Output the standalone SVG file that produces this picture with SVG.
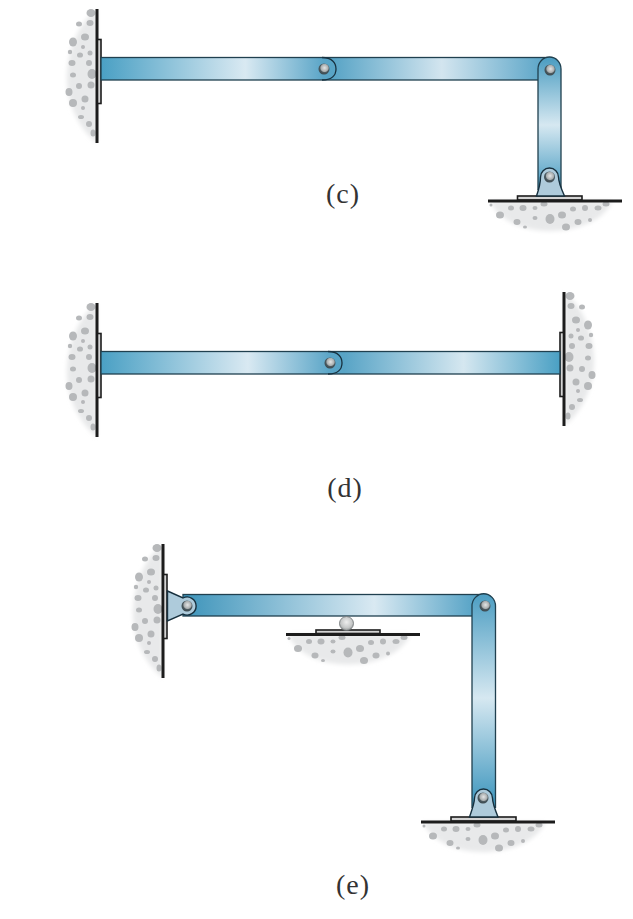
<svg xmlns="http://www.w3.org/2000/svg" width="633" height="919" viewBox="0 0 633 919">
<style>
.blob{fill:#e8e9ea;filter:url(#soft)}
.stones{filter:url(#softer)}
.stones ellipse{fill:#b6b8ba}
.bar{stroke:#20404f;stroke-width:1.3}
.hinge{fill:none;stroke:#17303e;stroke-width:1.3}
.clevis{fill:#aecbdb;stroke:#17303e;stroke-width:1.4}
.heavy{fill:#1c1c1c}
.plate{fill:#d4d4d4;stroke:#1c1c1c;stroke-width:1.6}
.label{font-family:"Liberation Serif","Times New Roman",serif;font-size:28px;letter-spacing:1px;fill:#333;text-anchor:middle}
</style>
<defs>
<filter id="soft" x="-20%" y="-20%" width="140%" height="140%"><feGaussianBlur stdDeviation="2.2"/></filter>
<filter id="softer" x="-10%" y="-10%" width="120%" height="120%"><feGaussianBlur stdDeviation=".7"/></filter>
<radialGradient id="pinFill" cx="55%" cy="40%" r="60%"><stop offset="0" stop-color="#e4e6e6"/><stop offset=".55" stop-color="#a9adae"/><stop offset=".7" stop-color="#4c5a60"/><stop offset="1" stop-color="#3a484e"/></radialGradient>
<radialGradient id="ballFill" cx="50%" cy="40%" r="60%"><stop offset="0" stop-color="#eeeeee"/><stop offset=".7" stop-color="#c4c6c6"/><stop offset="1" stop-color="#8d9090"/></radialGradient>
<linearGradient id="beamC" gradientUnits="userSpaceOnUse" x1="101" y1="0" x2="538" y2="0"><stop offset="0" stop-color="#4aa0c4"/><stop offset=".33" stop-color="#d9e9f2"/><stop offset=".51" stop-color="#5aa5c7"/><stop offset=".53" stop-color="#58a4c6"/><stop offset=".78" stop-color="#d3e5ef"/><stop offset="1" stop-color="#62a9ca"/></linearGradient>
<linearGradient id="beamD" gradientUnits="userSpaceOnUse" x1="101" y1="0" x2="560" y2="0"><stop offset="0" stop-color="#4aa0c4"/><stop offset=".32" stop-color="#d9e9f2"/><stop offset=".5" stop-color="#5aa5c7"/><stop offset=".53" stop-color="#58a4c6"/><stop offset=".79" stop-color="#d5e7f0"/><stop offset="1" stop-color="#4aa0c4"/></linearGradient>
<linearGradient id="beamE" gradientUnits="userSpaceOnUse" x1="185" y1="0" x2="472" y2="0"><stop offset="0" stop-color="#3f95bb"/><stop offset=".66" stop-color="#d9e9f2"/><stop offset="1" stop-color="#5aa5c7"/></linearGradient>
<linearGradient id="linkC" gradientUnits="userSpaceOnUse" x1="0" y1="60" x2="0" y2="190"><stop offset="0" stop-color="#4f9fc3"/><stop offset=".5" stop-color="#d6e8f1"/><stop offset="1" stop-color="#459ac0"/></linearGradient>
<linearGradient id="linkE" gradientUnits="userSpaceOnUse" x1="0" y1="596" x2="0" y2="800"><stop offset="0" stop-color="#4f9fc3"/><stop offset=".5" stop-color="#d6e8f1"/><stop offset="1" stop-color="#459ac0"/></linearGradient>
<circle id="pin" r="5.5" fill="url(#pinFill)"/>
<g id="wallMass">
<path class="blob" d="M97 10C80 20 67 50 67 78C67 105 80 130 97 143Z"/>
<g class="stones">
<ellipse cx="91" cy="13" rx="4.500" ry="4"/><ellipse cx="79" cy="24" rx="3" ry="2.500"/><ellipse cx="90" cy="23" rx="3.500" ry="3"/><ellipse cx="85" cy="37" rx="4" ry="3.500"/><ellipse cx="73" cy="42" rx="4" ry="4.500"/><ellipse cx="83" cy="47" rx="2" ry="2"/><ellipse cx="70" cy="52" rx="2.200" ry="2.200"/><ellipse cx="80" cy="55" rx="3" ry="2.600"/><ellipse cx="90" cy="53" rx="2.500" ry="2.500"/><ellipse cx="72" cy="63" rx="3.500" ry="3"/><ellipse cx="89" cy="63" rx="3" ry="3"/><ellipse cx="92" cy="74" rx="4.500" ry="5"/><ellipse cx="73" cy="75" rx="3" ry="2.500"/><ellipse cx="79" cy="86" rx="3" ry="3"/><ellipse cx="91" cy="85" rx="3.500" ry="3.500"/><ellipse cx="69" cy="92" rx="3.500" ry="4"/><ellipse cx="85" cy="99" rx="3.500" ry="3.500"/><ellipse cx="73" cy="103" rx="4" ry="4"/><ellipse cx="83" cy="108" rx="2" ry="2"/><ellipse cx="81" cy="117" rx="3" ry="2"/><ellipse cx="89" cy="124" rx="3" ry="3"/><ellipse cx="93" cy="133" rx="2.500" ry="3.500"/>
</g>
</g>
<g id="groundMass">
<path class="blob" d="M490 201H612C606 218 580 231 550 231C522 231 498 220 490 201Z"/>
<g class="stones">
<ellipse cx="500" cy="215" rx="4" ry="3.500"/><ellipse cx="511" cy="208" rx="3" ry="2.500"/><ellipse cx="523" cy="208" rx="3.500" ry="3"/><ellipse cx="517" cy="222" rx="3.500" ry="3"/><ellipse cx="535" cy="208" rx="2.500" ry="2"/><ellipse cx="550" cy="219" rx="4.500" ry="5"/><ellipse cx="544" cy="204" rx="3.500" ry="2.500"/><ellipse cx="562" cy="215" rx="4" ry="3.500"/><ellipse cx="566" cy="227" rx="4" ry="3.500"/><ellipse cx="578" cy="222" rx="3.500" ry="3"/><ellipse cx="585" cy="208" rx="3" ry="3"/><ellipse cx="573" cy="209" rx="3" ry="2.500"/><ellipse cx="598" cy="208" rx="3.500" ry="2.500"/><ellipse cx="606" cy="204" rx="3.500" ry="2.500"/><ellipse cx="491" cy="205" rx="1.500" ry="1.500"/><ellipse cx="535" cy="218" rx="2.500" ry="2"/><ellipse cx="525" cy="227" rx="2" ry="1.500"/><ellipse cx="590" cy="220" rx="2" ry="2"/>
</g>
</g>
</defs>

<g id="supports">
<g id="wall-c"><use href="#wallMass"/><rect class="heavy" x="95.500" y="9" width="3" height="134"/><rect class="plate" x="97.500" y="39.500" width="3.500" height="64"/></g>
<g id="ground-c"><use href="#groundMass"/><rect class="plate" x="517.500" y="196" width="64.500" height="4"/><rect class="heavy" x="488" y="199.500" width="134" height="3"/></g>
<g id="wall-d-left"><use href="#wallMass" y="294"/><rect class="heavy" x="95.500" y="303" width="3" height="134"/><rect class="plate" x="97.500" y="333.500" width="3.500" height="64"/></g>
<g id="wall-d-right"><use href="#wallMass" transform="translate(661 283) scale(-1 1)"/><rect class="heavy" x="562.500" y="292" width="3" height="134"/><rect class="plate" x="560" y="332.500" width="3.500" height="64"/></g>
<g id="wall-e"><use href="#wallMass" transform="translate(66 535)"/><rect class="heavy" x="161.500" y="544" width="3" height="134"/><rect class="plate" x="163.500" y="574.500" width="3.500" height="64"/></g>
<g id="ground-e-roller"><use href="#groundMass" transform="translate(-202 433.500)"/><rect class="plate" x="316" y="630" width="64" height="3.500"/><rect class="heavy" x="286" y="633" width="134" height="3"/></g>
<g id="ground-e"><use href="#groundMass" transform="translate(-67 621)"/><rect class="plate" x="451" y="817" width="65" height="4"/><rect class="heavy" x="421" y="820.500" width="134" height="3"/></g>
</g>

<g id="connectors">
<g id="member-c">
<rect class="bar" x="101" y="57.500" width="445" height="22.500" fill="url(#beamC)"/>
<path class="hinge" d="M322 57.500C332 57.500 336 63 336 69C336 75 332 80 322 80"/>
<path class="bar" fill="url(#linkC)" d="M538 190V69A11.500 12 0 0 1 561 69V190"/>
<path class="clevis" d="M536.500 196C540 186 540.500 182 540.500 177A9 9 0 0 1 558.500 177C558.500 182 560 186 564.500 196Z"/>
<use href="#pin" x="324" y="69"/><use href="#pin" x="550" y="70"/><use href="#pin" x="549.500" y="177"/>
</g>
<g id="member-d">
<rect class="bar" x="101" y="351.500" width="459" height="22.500" fill="url(#beamD)"/>
<path class="hinge" d="M328 351.500C338 351.500 342 357 342 363C342 369 338 374 328 374"/>
<use href="#pin" x="330" y="363"/>
</g>
<g id="member-e">
<rect class="bar" x="183" y="594.500" width="300" height="21.500" fill="url(#beamE)"/>
<path class="clevis" d="M167.500 591L183 598A9 9 0 1 1 183 614L167.500 621Z"/>
<path class="bar" fill="url(#linkE)" d="M472 808V606A11.500 12 0 0 1 495.500 606V808"/>
<path class="clevis" d="M469.500 817C473 807 474.500 803 474.500 798A9 9 0 0 1 492.500 798C492.500 803 494 807 498 817Z"/>
<circle cx="346.500" cy="623.500" r="7" fill="url(#ballFill)" stroke="#6f7476" stroke-width=".8"/>
<use href="#pin" x="187" y="606"/><use href="#pin" x="485" y="606"/><use href="#pin" x="483" y="798"/>
</g>
</g>

<g id="labels">
<text class="label" x="343" y="203">(c)</text>
<text class="label" x="345" y="497">(d)</text>
<text class="label" x="353" y="894">(e)</text>
</g>
</svg>
